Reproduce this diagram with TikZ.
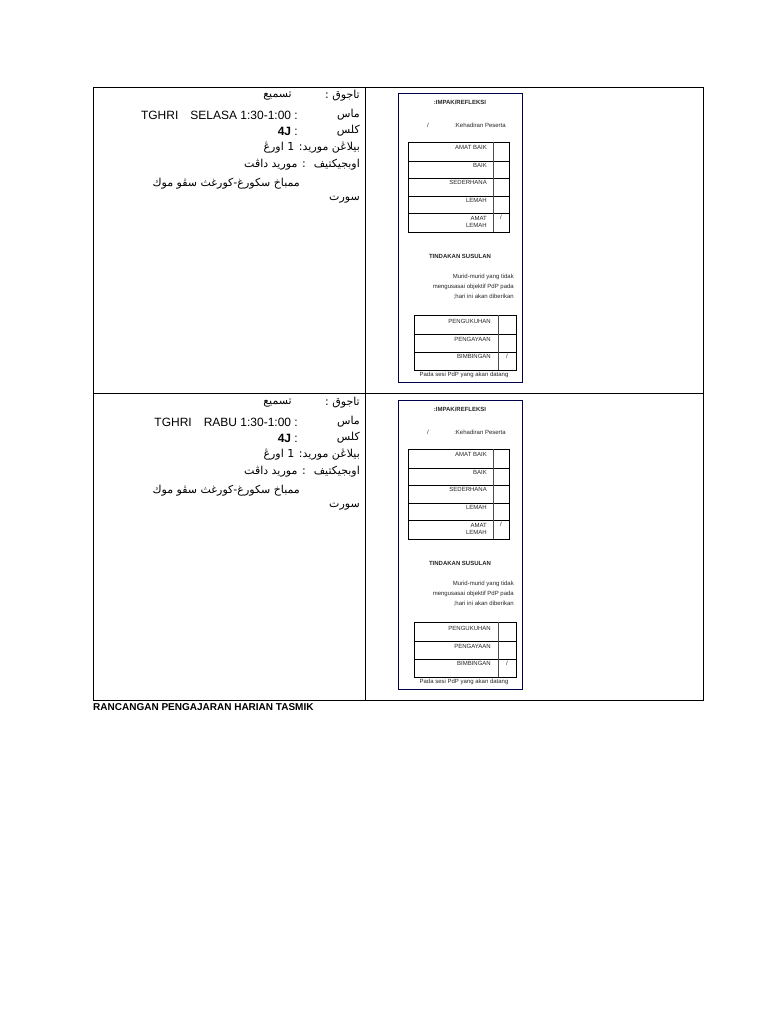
\documentclass[tikz,border=0pt]{standalone}
\usepackage{fontspec}
\setmainfont{Liberation Sans}
\newfontfamily\arabicfont[Script=Arabic]{DejaVu Sans}
\TeXXeTstate=1
\newcommand{\ar}[1]{{\arabicfont\beginR #1\endR}}
\begin{document}
\begin{tikzpicture}[x=1pt,y=-1pt,
  jw/.style={anchor=east,inner sep=0,font=\fontsize{11}{12}\selectfont},
  lt/.style={anchor=east,inner sep=0,font=\fontsize{12}{12}\selectfont},
  tiny/.style={inner sep=0,font=\fontsize{6}{7}\selectfont,text=black!85},
  nv/.style={draw=blue!30!black,line width=0.6pt}]
\useasboundingbox (0,0) rectangle (768,1024);
\fill[white] (0,0) rectangle (768,1024);
\draw[line width=0.6pt] (93,87) rectangle (703,700);
\draw[line width=0.6pt] (93,393) -- (703,393);
\draw[line width=0.6pt] (365,87) -- (365,700);
\foreach \dy/\day in {0/SELASA,307/RABU}{
\begin{scope}[yshift=-\dy]
\node[jw] (a1) at (360,96) {\ar{تاجوق :}};
\node[jw] (a1b) at (292,96) {\ar{تسميع}};
\node[jw] (a2) at (360,115) {\ar{ماس}};
\node[lt] (a2b) at (298,115) {TGHRI\quad\day{} 1:30-1:00 :};
\node[jw] (a3) at (360,131) {\ar{كلس}};
\node[lt] (a3b) at (298,131) {\textbf{4J} :};
\node[jw] (a4) at (360,148) {\ar{بيلاڠن موريد: 1 اورڠ}};
\node[jw] (a5) at (360,165) {\ar{اوبجيكتيف}};
\node[jw] (a5b) at (306,165) {\ar{: موريد داڤت}};
\node[jw] (a6) at (300,184) {\ar{ممباخ سكورغ-كورغث سڤو موك}};
\node[jw] (a7) at (360,200) {\ar{سورت}};
\draw[nv] (398,93) rectangle (522,382);
\node[tiny,font=\fontsize{6}{7}\bfseries] (t1) at (460,102) {:IMPAK/REFLEKSI};
\node[tiny] (t2) at (428,125) {/};
\node[tiny] (t3) at (480,125) {:Kehadiran Peserta};
\draw[line width=0.6pt] (408,142) rectangle (509,232);
\foreach \yy in {161,178,196,213}{\draw[line width=0.6pt] (408,\yy) -- (509,\yy);}
\draw[line width=0.9pt,black!70] (493,142) -- (493,232);
\node[tiny,anchor=east] (r1) at (487,147) {AMAT BAIK};
\node[tiny,anchor=east] (r2) at (487,165) {BAIK};
\node[tiny,anchor=east] (r3) at (487,182) {SEDERHANA};
\node[tiny,anchor=east] (r4) at (487,200) {LEMAH};
\node[tiny,anchor=east,align=right] (r5) at (487,222) {AMAT\\LEMAH};
\node[tiny] (r5m) at (501,217) {/};
\node[tiny,font=\fontsize{6}{7}\bfseries] (t4) at (460,256) {TINDAKAN SUSULAN};
\node[tiny,align=right,anchor=east,font=\fontsize{6}{10}\selectfont] (t5) at (514,287) {Murid-murid yang tidak\\mengusasai objektif PdP pada\\;hari ini akan diberikan};
\draw[line width=0.6pt] (414,315) rectangle (516,370);
\foreach \yy in {334,352}{\draw[line width=0.6pt] (414,\yy) -- (516,\yy);}
\draw[line width=0.9pt,black!70] (498,315) -- (498,370);
\node[tiny,anchor=east] (p1) at (491,321) {PENGUKUHAN};
\node[tiny,anchor=east] (p2) at (491,339) {PENGAYAAN};
\node[tiny,anchor=east] (p3) at (491,356) {BIMBINGAN};
\node[tiny] (p3m) at (507,356) {/};
\node[tiny] (t6) at (464,375) {Pada sesi PdP yang akan datang};
\end{scope}}
\node[anchor=west,inner sep=0,font=\fontsize{10}{11}\bfseries] (cap) at (93,707) {RANCANGAN PENGAJARAN HARIAN TASMIK};
\end{tikzpicture}
\end{document}
